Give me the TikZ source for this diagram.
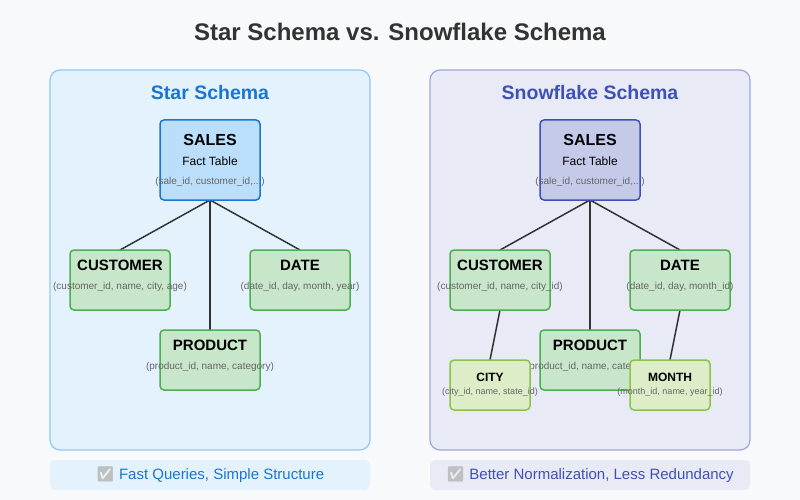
\documentclass[tikz,border=0pt]{standalone}
\usepackage{fontspec}
\setmainfont{Liberation Sans}
\newfontfamily\emo{Noto Emoji}
\definecolor{bg}{HTML}{F8F9FA}
\definecolor{sbg}{HTML}{E3F2FD}\definecolor{sbd}{HTML}{90CAF9}\definecolor{sdk}{HTML}{1976D2}\definecolor{sfill}{HTML}{BBDEFB}
\definecolor{fbg}{HTML}{E8EAF6}\definecolor{fbd}{HTML}{9FA8DA}\definecolor{fdk}{HTML}{3F51B5}\definecolor{ffill}{HTML}{C5CAE9}
\definecolor{gfill}{HTML}{C8E6C9}\definecolor{gbd}{HTML}{4CAF50}
\definecolor{lfill}{HTML}{DCEDC8}\definecolor{lbd}{HTML}{8BC34A}
\definecolor{txt}{HTML}{333333}\definecolor{attr}{HTML}{666666}
\tikzset{
 tbl/.style={draw=gbd,fill=gfill,line width=1.5pt,rounded corners=4pt},
 sub/.style={draw=lbd,fill=lfill,line width=1.5pt,rounded corners=4pt},
 ttl/.style={inner sep=0pt,font=\bfseries\fontsize{15}{15}\selectfont},
 att/.style={inner sep=0pt,text=attr,font=\fontsize{10}{10}\selectfont},
 conn/.style={draw=txt,line width=1.5pt},
}
\begin{document}
\begin{tikzpicture}[x=1pt,y=-1pt]
\fill[bg] (0,0) rectangle (800,500);
\useasboundingbox (0,0) rectangle (800,500);
\node[inner sep=0pt,text=txt,font=\bfseries\fontsize{24}{24}\selectfont] (title) at (400,32) {Star Schema vs. Snowflake Schema};
% panels
\draw[sbd,fill=sbg,line width=1.2pt,rounded corners=10pt] (50,70) rectangle (370,450);
\draw[fbd,fill=fbg,line width=1.2pt,rounded corners=10pt] (430,70) rectangle (750,450);
\node[inner sep=0pt,text=sdk,font=\bfseries\fontsize{19.5}{19.5}\selectfont] (st) at (210,93) {Star Schema};
\node[inner sep=0pt,text=fdk,font=\bfseries\fontsize{19.5}{19.5}\selectfont] (sft) at (590,93) {Snowflake Schema};
% star connectors
\coordinate (s0) at (210,200);
\draw[conn] (s0) -- (120,250); \draw[conn] (s0) -- (210,330); \draw[conn] (s0) -- (300,250);
% star nodes
\draw[draw=sdk,fill=sfill,line width=1.5pt,rounded corners=4pt] (160,120) rectangle (260,200);
\node[ttl,font=\bfseries\fontsize{16}{16}\selectfont] (sa) at (210,140) {SALES};
\node[inner sep=0pt,font=\fontsize{12}{12}\selectfont] (sb) at (210,161) {Fact Table};
\node[att] (sc) at (210,182) {(sale\_id, customer\_id,...)};
\draw[tbl] (70,250) rectangle (170,310);
\node[ttl] (c1) at (120,265) {CUSTOMER};
\node[att] (c2) at (120,287) {(customer\_id, name, city, age)};
\draw[tbl] (250,250) rectangle (350,310);
\node[ttl] (d1) at (300,265) {DATE};
\node[att] (d2) at (300,287) {(date\_id, day, month, year)};
\draw[tbl] (160,330) rectangle (260,390);
\node[ttl] (p1) at (210,345) {PRODUCT};
\node[att] (p2) at (210,367) {(product\_id, name, category)};
% snowflake connectors
\coordinate (f0) at (590,200);
\draw[conn] (f0) -- (500,250); \draw[conn] (f0) -- (590,330); \draw[conn] (f0) -- (680,250);
\draw[conn] (500,310) -- (490,360); \draw[conn] (680,310) -- (670,360);
\draw[draw=fdk,fill=ffill,line width=1.5pt,rounded corners=4pt] (540,120) rectangle (640,200);
\node[ttl,font=\bfseries\fontsize{16}{16}\selectfont] (fa) at (590,140) {SALES};
\node[inner sep=0pt,font=\fontsize{12}{12}\selectfont] (fb) at (590,161) {Fact Table};
\node[att] (fc) at (590,182) {(sale\_id, customer\_id,...)};
\draw[tbl] (450,250) rectangle (550,310);
\node[ttl] (fc1) at (500,265) {CUSTOMER};
\node[att] (fc2) at (500,287) {(customer\_id, name, city\_id)};
\draw[tbl] (630,250) rectangle (730,310);
\node[ttl] (fd1) at (680,265) {DATE};
\node[att] (fd2) at (680,287) {(date\_id, day, month\_id)};
\draw[tbl] (540,330) rectangle (640,390);
\node[ttl] (fp1) at (590,345) {PRODUCT};
\node[att] (fp2) at (590,367) {(product\_id, name, category)};
\draw[sub] (450,360) rectangle (530,410);
\node[ttl,font=\bfseries\fontsize{12}{12}\selectfont] (ci1) at (490,377) {CITY};
\node[att,font=\fontsize{9}{9}\selectfont] (ci2) at (490,392) {(city\_id, name, state\_id)};
\draw[sub] (630,360) rectangle (710,410);
\node[ttl,font=\bfseries\fontsize{12}{12}\selectfont] (m1) at (670,377) {MONTH};
\node[att,font=\fontsize{9}{9}\selectfont] (m2) at (670,392) {(month\_id, name, year\_id)};
% captions
\fill[sbg,rounded corners=5pt] (50,460) rectangle (370,490);
\fill[fbg,rounded corners=5pt] (430,460) rectangle (750,490);
\node[inner sep=0pt,text=sdk,font=\fontsize{15}{15}\selectfont] (cap1) at (210,475) {{\emo\color{gray!50}✅} Fast Queries, Simple Structure};
\node[inner sep=0pt,text=fdk,font=\fontsize{15}{15}\selectfont] (cap2) at (590,475) {{\emo\color{gray!50}✅} Better Normalization, Less Redundancy};
\end{tikzpicture}
\end{document}
